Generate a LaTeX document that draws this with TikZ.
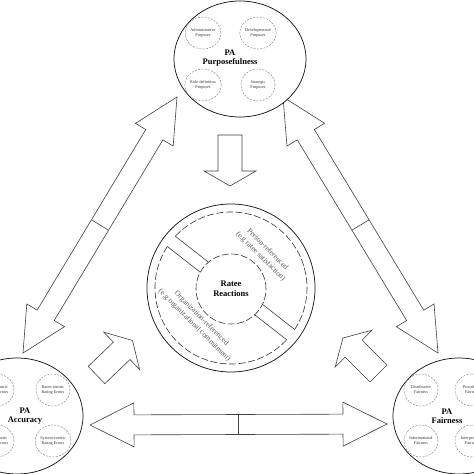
\documentclass[tikz,border=0pt]{standalone}
\usepackage{fontspec}
\setmainfont{Liberation Serif}
\usetikzlibrary{calc,shapes.geometric}
\newcommand\dblblock[2]{%
  \coordinate (na) at ($(#1)!44pt!(#2)$);
  \coordinate (nb) at ($(#2)!44pt!(#1)$);
  \coordinate (mid) at ($(#1)!0.5!(#2)$);
  \draw[blockarrow] (#1) -- ($(na)!22pt!90:(#2)$) -- ($(na)!10pt!90:(#2)$)
    -- ($(nb)!10pt!-90:(#1)$) -- ($(nb)!22pt!-90:(#1)$) -- (#2)
    -- ($(nb)!22pt!90:(#1)$) -- ($(nb)!10pt!90:(#1)$)
    -- ($(na)!10pt!-90:(#2)$) -- ($(na)!22pt!-90:(#2)$) -- cycle;
  \draw[blockarrow] ($(mid)!10pt!90:(#2)$) -- ($(mid)!10pt!-90:(#2)$);
}
\newcommand\oneblock[2]{%
  \coordinate (nk) at ($(#2)!15pt!(#1)$);
  \draw[blockarrow] (#2) -- ($(nk)!26pt!90:(#2)$) -- ($(nk)!12pt!90:(#2)$)
    -- ($(#1)!12pt!90:(#2)$) -- ($(#1)!12pt!-90:(#2)$)
    -- ($(nk)!12pt!-90:(#2)$) -- ($(nk)!26pt!-90:(#2)$) -- cycle;
}
\begin{document}
\begin{tikzpicture}[x=1pt,y=-1pt,
  ring/.style={draw=black!90,line width=0.75pt,fill=white},
  subcirc/.style={draw=black!45,dash pattern=on 2pt off 1.3pt,line width=0.5pt,ellipse,minimum width=34pt,minimum height=32pt,inner sep=0pt},
  blockarrow/.style={draw=black!75,line width=0.6pt,line join=miter,fill=white},
  title/.style={font=\fontsize{8.5}{9.5}\selectfont\bfseries,align=center},
  small/.style={font=\fontsize{4.2}{5}\selectfont,align=center,text=black!80},
  sectortext/.style={font=\fontsize{7.5}{9.8}\selectfont,align=center,text=black!65,inner sep=0pt},
  sectorline/.style={draw=black!75,line width=0.6pt},
  sectordash/.style={draw=black!80,line width=0.6pt,dash pattern=on 7pt off 2.5pt}]
\clip (0,0) rectangle (474,474);
\fill[white] (0,0) rectangle (474,474);

% block arrows
\coordinate (lA) at (177,97);  \coordinate (lB) at (23,353);
\coordinate (rA) at (283,97);  \coordinate (rB) at (438,353);
\coordinate (bA) at (90,425);  \coordinate (bB) at (387,424);
\dblblock{lA}{lB}
\dblblock{rA}{rB}
\dblblock{bA}{bB}
\coordinate (dT) at (230,135); \coordinate (dP) at (230,186);
\coordinate (llT) at (96.5,375); \coordinate (llP) at (132.5,340.5);
\coordinate (lrT) at (378.5,373.5); \coordinate (lrP) at (343,338);
\oneblock{dT}{dP}
\oneblock{llT}{llP}
\oneblock{lrT}{lrP}

% outer circles
\node[ring,ellipse,minimum width=132pt,minimum height=116pt,inner sep=0pt] (purp) at (240,59) {};
\node[title] (purpt) at (230,58) {PA\\Purposefulness};
\node[subcirc,small] (adm) at (203,33) {Administrative\\Purposes};
\node[subcirc,small] (dev) at (258,33) {Developmental\\Purposes};
\node[subcirc,small] (rol) at (203,85) {Role-definition\\Purposes};
\node[subcirc,small] (str) at (258,85) {Strategic\\Purposes};

\node[ring,ellipse,minimum width=132pt,minimum height=116pt,inner sep=0pt] (acc) at (17,416) {};
\node[title] (acct) at (25,416) {PA\\Accuracy};
\node[subcirc,small] (rae) at (-3,390) {Rater-centric\\Rating Errors};
\node[subcirc,small] (ree) at (53,390) {Ratee-centric\\Rating Errors};
\node[subcirc,small] (ite) at (-3,441) {Item-centric\\Rating Errors};
\node[subcirc,small] (sye) at (53,441) {System-centric\\Rating Errors};

\node[ring,ellipse,minimum width=132pt,minimum height=116pt,inner sep=0pt] (fair) at (459,416) {};
\node[title] (fairt) at (447,416) {PA\\Fairness};
\node[subcirc,small] (dis) at (421,390) {Distributive\\Fairness};
\node[subcirc,small] (pro) at (472,390) {Procedural\\Fairness};
\node[subcirc,small] (inf) at (421,441) {Informational\\Fairness};
\node[subcirc,small] (int) at (472,441) {Interpersonal\\Fairness};

% central ring
\node[ring,circle,minimum size=168pt,inner sep=0pt] (rr) at (231,288) {};
\node[circle,draw=black!80,line width=0.6pt,dash pattern=on 7pt off 2.5pt,minimum size=70pt,inner sep=0pt,title] (core) at (231,289) {Ratee\\Reactions};
\begin{scope}[shift={(rr.center)},rotate=-38,y=1pt]
  \draw[sectorline] (34.39,6.5) -- (75.72,6.5);
  \draw[sectorline] (-34.39,6.5) -- (-75.72,6.5);
  \draw[sectorline] (34.39,-6.5) -- (75.72,-6.5);
  \draw[sectorline] (-34.39,-6.5) -- (-75.72,-6.5);
  \draw[sectordash] (75.72,6.5) arc[start angle=4.9,end angle=175.1,radius=76];
  \draw[sectordash] (-75.72,-6.5) arc[start angle=184.9,end angle=355.1,radius=76];
\end{scope}
\node[sectortext,rotate=-45] (pref) at (264,253) {Person-referenced\\(e.g ratee satisfaction)};
\node[sectortext,rotate=-45] (oref) at (198,322) {Organization-referenced\\(e.g organizational commitment)};
\end{tikzpicture}
\end{document}
